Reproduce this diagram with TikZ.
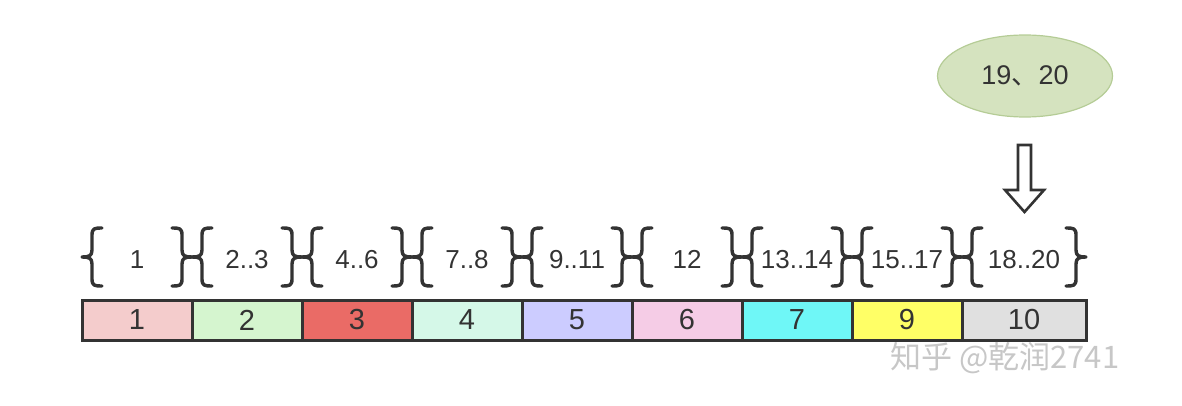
\documentclass[tikz,border=0pt]{standalone}
\usepackage{fontspec}
\setmainfont{Liberation Sans}
\newfontfamily\cjk{Noto Sans CJK SC}
\usetikzlibrary{shapes.geometric}

\definecolor{linegray}{HTML}{333333}
\definecolor{cA}{HTML}{F4CCCC}
\definecolor{cB}{HTML}{D5F5CF}
\definecolor{cC}{HTML}{EA6B66}
\definecolor{cD}{HTML}{D5F8E8}
\definecolor{cE}{HTML}{CCCCFF}
\definecolor{cF}{HTML}{F5CCE6}
\definecolor{cG}{HTML}{6FF7F7}
\definecolor{cH}{HTML}{FFFF66}
\definecolor{cI}{HTML}{E0E0E0}
\definecolor{sage}{HTML}{D5E3BF}
\definecolor{sageline}{HTML}{B5CC96}

\tikzset{
  curly/.pic={
    \draw[draw=linegray, line width=3.4pt, line cap=round, line join=round]
      (20,-29) .. controls (13,-29) and (10,-29) .. (10,-22) -- (10,-7)
      .. controls (10,-1) and (7,0) .. (0,0)
      .. controls (7,0) and (10,1) .. (10,7) -- (10,22)
      .. controls (10,29) and (13,29) .. (20,29);
  }
}

\begin{document}
\begin{tikzpicture}[x=1pt, y=-1pt,
  cell/.style={draw=linegray, line width=3pt, minimum height=40pt, inner sep=0pt,
    text=linegray, font=\fontsize{29}{29}\selectfont},
  lbl/.style={inner sep=0pt, text=linegray, anchor=base, font=\fontsize{26}{26}\selectfont}]
\useasboundingbox (0,0) rectangle (1182,406);
\def\w{110}

% cells
\foreach \i/\c/\t in {1/cA/1, 2/cB/2, 3/cC/3, 4/cD/4, 5/cE/5, 6/cF/6, 7/cG/7, 8/cH/9}
  \node[cell, fill=\c, minimum width=\w pt] (c\i) at (82+\w*\i-\w/2, 320) {\t};
\node[cell, fill=cI, minimum width=124pt] (c9) at (1024, 320) {10};

% braces and ranges
\pic at (82, 257) {curly};
\foreach \i/\t in {1/1, 2/2..3, 3/4..6, 4/7..8, 5/9..11, 6/12, 7/13..14, 8/15..17} {
  \pic[xscale=-1] at (82+\w*\i, 257) {curly};
  \pic at (82+\w*\i, 257) {curly};
  \node[lbl] (r\i) at (82+\w*\i-\w/2, 268) {\t};
}
\pic[xscale=-1] at (1086, 257) {curly};
\node[lbl] (r9) at (1024, 268) {18..20};

% new elements
\node[ellipse, draw=sageline, fill=sage, line width=1.2pt, minimum width=175pt,
  minimum height=82pt, inner sep=0pt, text=linegray,
  font=\fontsize{27}{27}\selectfont] (new) at (1025, 76) {19{\cjk 、}20};

\draw[line width=2.6pt, draw=linegray, line join=miter]
  (1018,145) -- (1031,145) -- (1031,190) -- (1044,190) -- (1024.5,212)
  -- (1005,190) -- (1018,190) -- cycle;

% watermark
\node[anchor=west, inner sep=0pt, text=black!22, font=\cjk\fontsize{31}{31}\selectfont]
  (wm) at (890, 358) {知乎 @乾润2741};
\end{tikzpicture}
\end{document}
